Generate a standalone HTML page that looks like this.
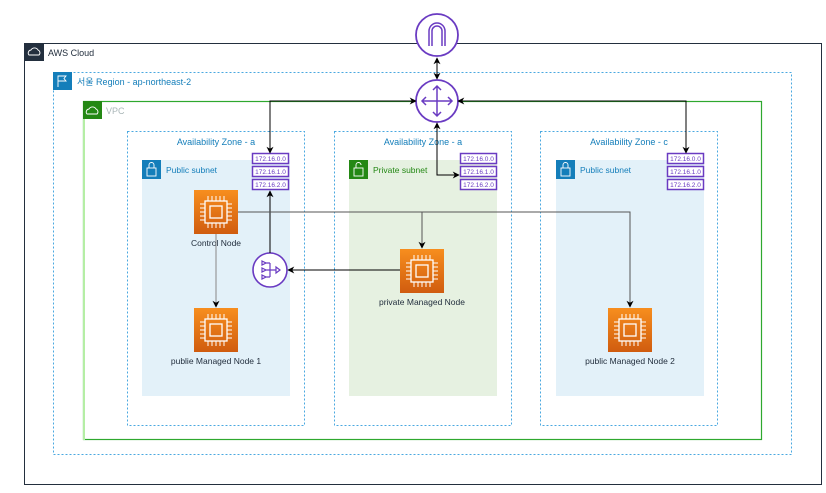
<!DOCTYPE html>
<html><head><meta charset="utf-8"><style>
html,body{margin:0;padding:0;background:#fff;}
svg{display:block;font-family:"Liberation Sans","Noto Sans CJK KR",sans-serif;}
</style></head><body>
<svg width="826" height="493" viewBox="0 0 826 493" xmlns="http://www.w3.org/2000/svg">
<defs>
<marker id="a" viewBox="0 0 10 10" refX="9" refY="5" markerWidth="7" markerHeight="7" orient="auto-start-reverse"><path d="M0,0 L10,5 L0,10 L3,5 z" fill="#000"/></marker>
<linearGradient id="og" x1="0" y1="0" x2="0" y2="1"><stop offset="0" stop-color="#f78e1e"/><stop offset="1" stop-color="#d05c0f"/></linearGradient>
<g id="chip">
<rect width="44" height="44" fill="url(#og)"/>
<rect x="11" y="11" width="22" height="22" fill="none" stroke="#fff" stroke-width="1.3"/>
<rect x="16" y="16" width="12" height="12" fill="none" stroke="#fff" stroke-width="1.3"/>
<g stroke="#fff" stroke-width="1">
<path d="M14,6v5M18,6v5M22,6v5M26,6v5M30,6v5M14,33v5M18,33v5M22,33v5M26,33v5M30,33v5M6,14h5M6,18h5M6,22h5M6,26h5M6,30h5M33,14h5M33,18h5M33,22h5M33,26h5M33,30h5"/>
</g>
</g>
<g id="ip">
<rect x="0.5" y="0.5" width="36" height="10" fill="#fff" stroke="#6a3bc2" stroke-width="1.5"/>
</g>
</defs>
<!-- AWS Cloud -->
<rect x="24.5" y="43.5" width="797" height="441" fill="none" stroke="#232f3e" stroke-width="1"/>
<rect x="24" y="43" width="20" height="18" fill="#232f3e"/>
<path d="M29,55 a3,3 0 0 1 2,-5 a4,4 0 0 1 7,0 a3,3 0 0 1 1,5 z" fill="none" stroke="#fff" stroke-width="0.9"/>
<text x="48" y="56" font-size="9" fill="#232f3e">AWS Cloud</text>
<!-- Region -->
<rect x="53.5" y="72.5" width="738" height="382" fill="none" stroke="#4aa8e0" stroke-width="1" stroke-dasharray="2,2"/>
<rect x="53" y="72" width="19" height="18" fill="#147eba"/>
<path d="M58,87 V76 h8 l-2,2.5 2,2.5 h-8" fill="none" stroke="#fff" stroke-width="0.9"/>
<text x="77" y="85" font-size="9" fill="#147eba">서울 Region - ap-northeast-2</text>
<!-- VPC -->
<rect x="83.5" y="101.5" width="678" height="338" fill="none" stroke="#2ea82e" stroke-width="1.2"/>
<line x1="84" y1="119" x2="84" y2="440" stroke="#b5eea5" stroke-width="2"/>
<rect x="83" y="101" width="19" height="18" fill="#248814"/>
<path d="M87,114 a3,3 0 0 1 2,-5 a4,4 0 0 1 7,0 a3,3 0 0 1 1,5 z" fill="none" stroke="#fff" stroke-width="0.9"/>
<text x="106" y="114" font-size="9" fill="#aab7b8">VPC</text>
<!-- AZs -->
<g fill="none" stroke="#4aa8e0" stroke-width="1" stroke-dasharray="2,2">
<rect x="127.5" y="131.5" width="177" height="294"/>
<rect x="334.5" y="131.5" width="177" height="294"/>
<rect x="540.5" y="131.5" width="177" height="294"/>
</g>
<g font-size="9" fill="#147eba" text-anchor="middle">
<text x="216" y="145">Availability Zone - a</text>
<text x="423" y="145">Availability Zone - a</text>
<text x="629" y="145">Availability Zone - c</text>
</g>
<!-- Subnets -->
<rect x="142" y="160" width="148" height="236" fill="#e3f1f9"/>
<rect x="349" y="160" width="148" height="236" fill="#e6f1e1"/>
<rect x="556" y="160" width="148" height="236" fill="#e3f1f9"/>
<g>
<rect x="142" y="160" width="19" height="19" fill="#147eba"/>
<rect x="349" y="160" width="19" height="19" fill="#248814"/>
<rect x="556" y="160" width="19" height="19" fill="#147eba"/>
<g fill="none" stroke="#fff" stroke-width="0.9">
<rect x="147" y="168" width="9" height="8"/><path d="M149,168 v-3 a2.5,2.5 0 0 1 5,0 v3"/>
<rect x="354" y="168" width="9" height="8"/><path d="M356,168 v-3 a2.5,2.5 0 0 1 5,0 v-1"/>
<rect x="561" y="168" width="9" height="8"/><path d="M563,168 v-3 a2.5,2.5 0 0 1 5,0 v3"/>
</g>
</g>
<text x="166" y="173" font-size="8.5" fill="#147eba">Public subnet</text>
<text x="373" y="173" font-size="8.5" fill="#248814">Private subnet</text>
<text x="580" y="173" font-size="8.5" fill="#147eba">Public subnet</text>
<!-- IP boxes -->
<g font-size="6.5" fill="#6a3bc2" text-anchor="middle">
<use href="#ip" x="252" y="153"/><use href="#ip" x="252" y="166"/><use href="#ip" x="252" y="179"/>
<use href="#ip" x="460" y="153"/><use href="#ip" x="460" y="166"/><use href="#ip" x="460" y="179"/>
<use href="#ip" x="667" y="153"/><use href="#ip" x="667" y="166"/><use href="#ip" x="667" y="179"/>
<text x="270.5" y="161">172.16.0.0</text><text x="270.5" y="174">172.16.1.0</text><text x="270.5" y="187">172.16.2.0</text>
<text x="478.5" y="161">172.16.0.0</text><text x="478.5" y="174">172.16.1.0</text><text x="478.5" y="187">172.16.2.0</text>
<text x="685.5" y="161">172.16.0.0</text><text x="685.5" y="174">172.16.1.0</text><text x="685.5" y="187">172.16.2.0</text>
</g>
<!-- IGW -->
<circle cx="437" cy="35" r="21" fill="#fff" stroke="#6a3bc2" stroke-width="1.8"/>
<path d="M429,46 V31 a8,8 0 0 1 16,0 V46 M432,46 V31 a5,5 0 0 1 10,0 V46" fill="none" stroke="#6a3bc2" stroke-width="1.5"/>
<!-- Router -->
<circle cx="437" cy="101" r="21" fill="#fff" stroke="#6a3bc2" stroke-width="1.8"/>
<g stroke="#6a3bc2" stroke-width="1.5" fill="none">
<path d="M437,86 V116 M422,101 H452 M433,90 l4,-4 4,4 M433,112 l4,4 4,-4 M426,97 l-4,4 4,4 M448,97 l4,4 -4,4"/>
</g>
<!-- LB -->
<circle cx="270" cy="270" r="17" fill="#fff" stroke="#6a3bc2" stroke-width="1.6"/>
<g stroke="#6a3bc2" stroke-width="1.2" fill="none">
<path d="M262,261 l4,2 -4,2 z M262,268 l4,2 -4,2 z M262,275 l4,2 -4,2 z M266,263 h4 M266,270 h10 M266,277 h4 M270,263 v14 M276,267 l4,3 -4,3 z"/>
</g>
<!-- nodes -->
<use href="#chip" x="194" y="190"/>
<use href="#chip" x="194" y="308"/>
<use href="#chip" x="400" y="249"/>
<use href="#chip" x="608" y="308"/>
<g font-size="8.5" fill="#232f3e" text-anchor="middle">
<text x="216" y="246">Control Node</text>
<text x="216" y="364">publie Managed Node 1</text>
<text x="422" y="305">private Managed Node</text>
<text x="630" y="364">public Managed Node 2</text>
</g>
<!-- connectors -->
<g fill="none" stroke="#000" stroke-width="1">
<path d="M437,58 V79" marker-start="url(#a)" marker-end="url(#a)"/>
<path d="M416,101 H270 V153" marker-start="url(#a)" marker-end="url(#a)"/>
<path d="M458,101 H686 V153" marker-start="url(#a)" marker-end="url(#a)"/>
<path d="M437,123 V175 H459" marker-start="url(#a)" marker-end="url(#a)"/>
<path d="M270,253 V191" marker-end="url(#a)"/>
<path d="M400,270 H288" marker-end="url(#a)"/>
<path d="M238,212 H630 V307" stroke="#555" marker-end="url(#a)"/>
<path d="M422,212 V248" stroke="#555" marker-end="url(#a)"/>
<path d="M216,234 V307" stroke="#888" marker-end="url(#a)"/>
</g>
</svg>
</body></html>
